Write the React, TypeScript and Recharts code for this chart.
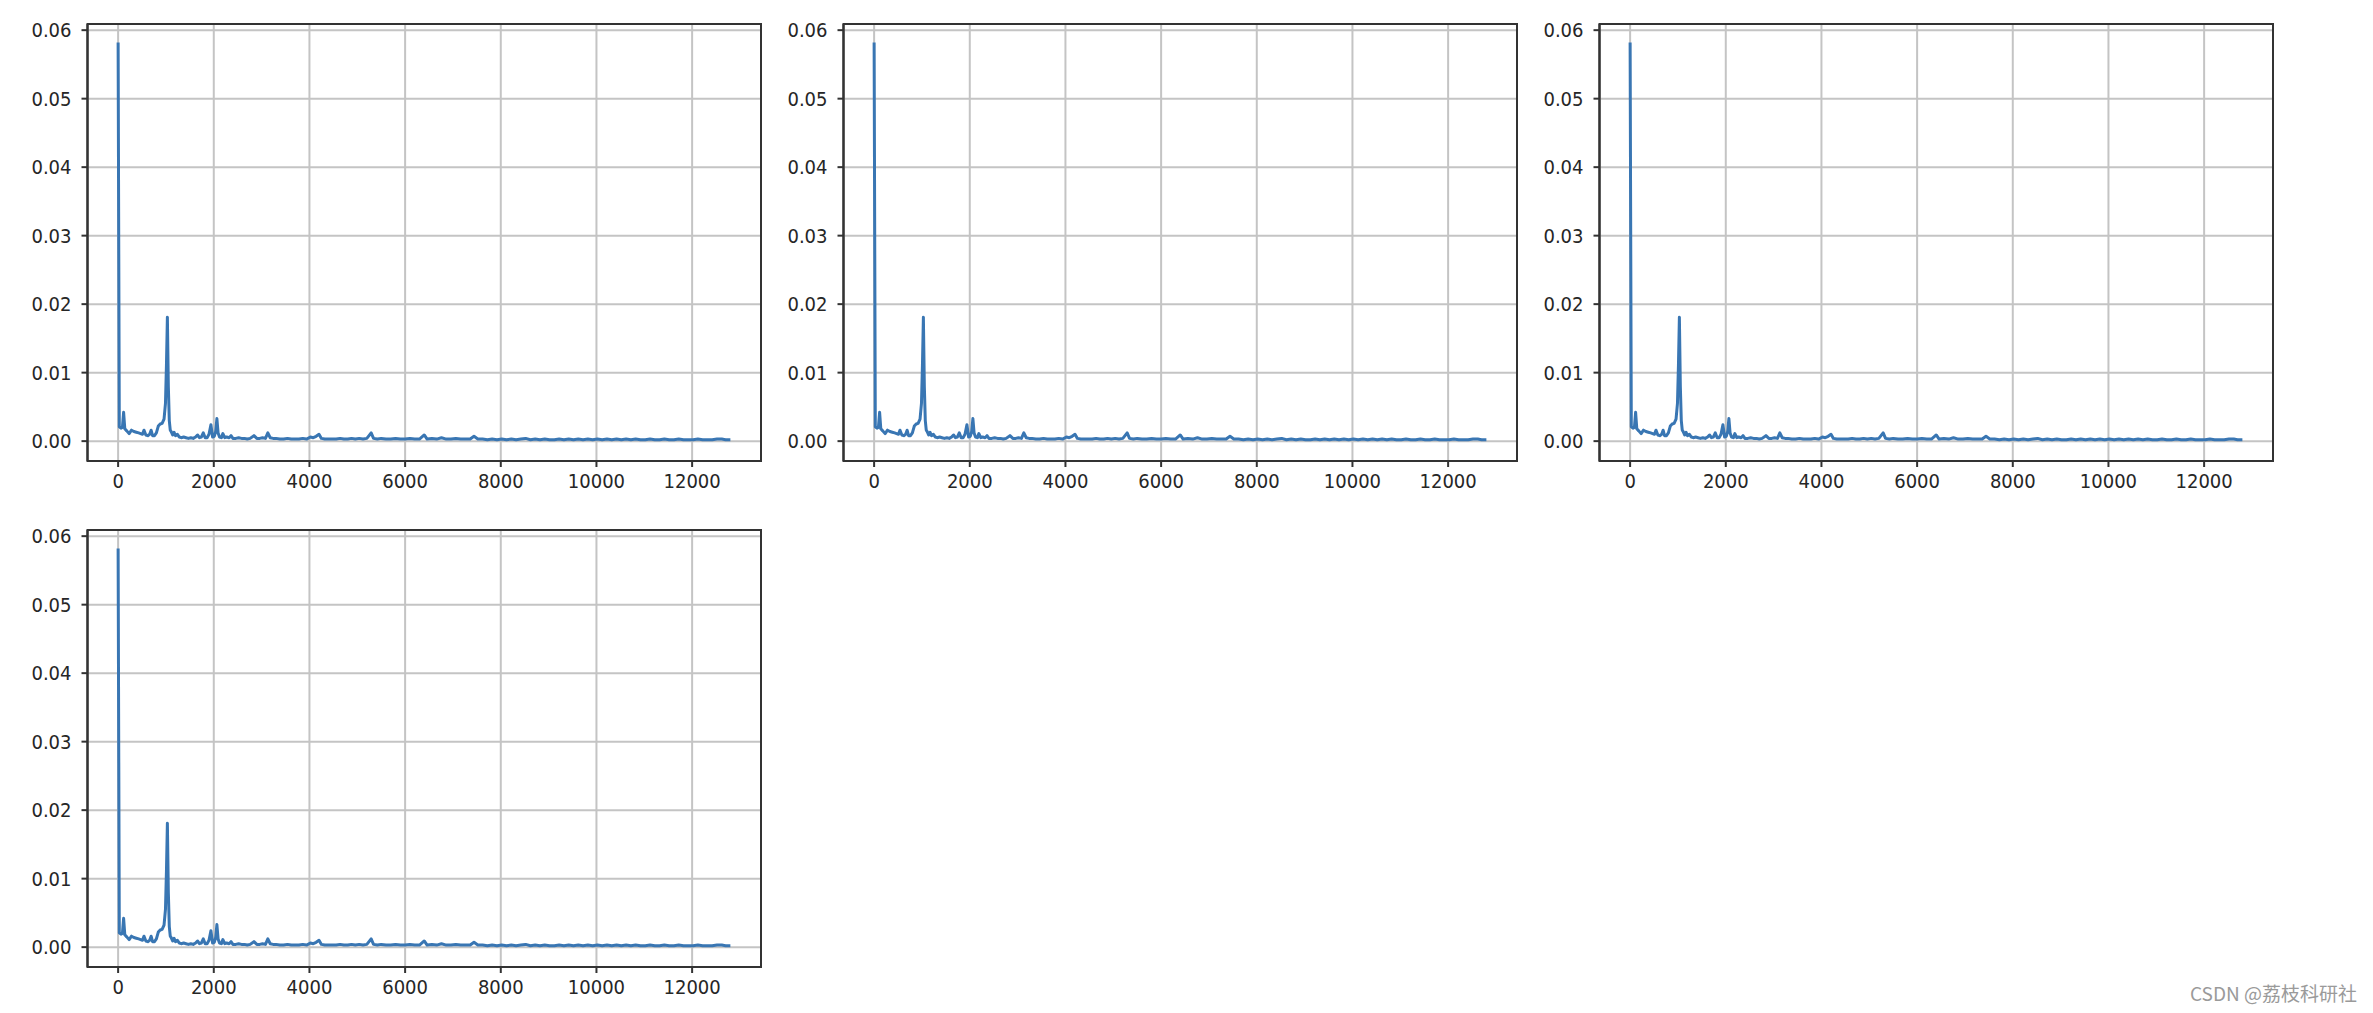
import React from 'react'
import {
  LineChart,
  Line,
  XAxis,
  YAxis,
  CartesianGrid,
  ReferenceArea
} from 'recharts'

// spectrum (all four panels show the same curve)
const freqHz = [
  0, 25, 60, 90, 115, 140, 180, 230, 280, 330, 380, 430, 470, 510, 540, 580, 620, 660, 690, 720,
  760, 800, 840, 880, 920, 960, 990, 1010, 1030, 1050, 1070, 1090, 1110, 1140, 1170, 1200, 1240, 1280, 1320, 1370,
  1420, 1470, 1520, 1570, 1620, 1660, 1700, 1740, 1780, 1820, 1860, 1900, 1940, 1975, 2010, 2040, 2065, 2090, 2120, 2160,
  2190, 2230, 2270, 2320, 2360, 2400, 2460, 2520, 2580, 2640, 2700, 2760, 2840, 2900, 2960, 3020, 3080, 3130, 3180, 3240,
  3300, 3380, 3460, 3540, 3620, 3700, 3780, 3860, 3940, 4020, 4080, 4140, 4200, 4250, 4320, 4400, 4480, 4560, 4640, 4720,
  4800, 4880, 4960, 5040, 5120, 5200, 5290, 5340, 5420, 5500, 5600, 5700, 5800, 5900, 6000, 6100, 6200, 6300, 6400, 6460,
  6560, 6660, 6760, 6860, 6960, 7060, 7160, 7260, 7360, 7440, 7520, 7620, 7720, 7820, 7920, 8020, 8120, 8220, 8320, 8420,
  8520, 8620, 8720, 8820, 8920, 9020, 9120, 9220, 9320, 9420, 9520, 9620, 9720, 9820, 9920, 10020, 10120, 10220, 10320, 10420,
  10520, 10620, 10720, 10820, 10920, 11020, 11120, 11220, 11320, 11420, 11520, 11620, 11720, 11820, 11920, 12020, 12120, 12220, 12320, 12420,
  12520, 12620, 12700, 12800
]

const amplitude = [
  0.0582, 0.0021, 0.0019, 0.002, 0.0042, 0.0018, 0.0015, 0.0011, 0.0016, 0.0014, 0.0013, 0.0012, 0.0011, 0.001, 0.0016, 0.0009, 0.0008, 0.001, 0.0016, 0.0008,
  0.0008, 0.0012, 0.0022, 0.0025, 0.0026, 0.0032, 0.0055, 0.011, 0.0181, 0.008, 0.003, 0.0016, 0.0014, 0.0009, 0.0013, 0.0008, 0.001, 0.0006, 0.0005, 0.0006,
  0.0005, 0.0004, 0.0005, 0.0004, 0.0006, 0.0009, 0.0005, 0.0006, 0.0012, 0.0005, 0.0005, 0.001, 0.0024, 0.0006, 0.0007, 0.0014, 0.0033, 0.0012, 0.0006, 0.0005,
  0.0011, 0.0005, 0.0006, 0.0005, 0.0008, 0.0004, 0.0004, 0.0005, 0.0004, 0.0004, 0.0003, 0.0004, 0.0008, 0.0004, 0.0004, 0.0005, 0.0004, 0.0012, 0.0005, 0.0004,
  0.0004, 0.0003, 0.0003, 0.0004, 0.0003, 0.0003, 0.0003, 0.0004, 0.0003, 0.0006, 0.0005, 0.0007, 0.001, 0.0004, 0.0003, 0.0003, 0.0003, 0.0003, 0.0004, 0.0003,
  0.0003, 0.0004, 0.0003, 0.0004, 0.0003, 0.0004, 0.0012, 0.0004, 0.0003, 0.0004, 0.0003, 0.0003, 0.0004, 0.0003, 0.0003, 0.0004, 0.0003, 0.0003, 0.0009, 0.0003,
  0.0004, 0.0003, 0.0005, 0.0003, 0.0003, 0.0004, 0.0003, 0.0003, 0.0003, 0.0007, 0.0003, 0.0003, 0.0002, 0.0003, 0.0002, 0.0003, 0.0002, 0.0003, 0.0002, 0.0003,
  0.0004, 0.0002, 0.0003, 0.0002, 0.0003, 0.0002, 0.0002, 0.0003, 0.0002, 0.0003, 0.0002, 0.0003, 0.0002, 0.0003, 0.0002, 0.0003, 0.0002, 0.0003, 0.0002, 0.0003,
  0.0002, 0.0003, 0.0002, 0.0003, 0.0002, 0.0002, 0.0003, 0.0002, 0.0002, 0.0003, 0.0002, 0.0002, 0.0003, 0.0002, 0.0002, 0.0002, 0.0003, 0.0002, 0.0002, 0.0002,
  0.0003, 0.0003, 0.0002, 0.0002
]

const xTicks = [0, 2000, 4000, 6000, 8000, 10000, 12000]
const yTicks = [0, 0.01, 0.02, 0.03, 0.04, 0.05, 0.06]
const xDomain: [number, number] = [-640, 13440]
const yDomain: [number, number] = [-0.0029, 0.0609]

const spectrum = freqHz.map((f, i) => ({ f, a: amplitude[i] }))

// left/top of each panel's chart box
const panels = [
  { left: 0, top: 0 },
  { left: 755.5, top: 0 },
  { left: 1511.5, top: 0 },
  { left: 0, top: 505.5 }
]

const tickStyle = {
  fontSize: 20,
  fontFamily: "'DejaVu Sans Condensed', 'DejaVu Sans', sans-serif",
  fill: '#262626'
}

function SpectrumPanel() {
  return (
    <LineChart
      width={780}
      height={510}
      data={spectrum}
      margin={{ top: 24, right: 19, left: 7.5, bottom: 0 }}
    >
      <CartesianGrid stroke="#c4c4c4" strokeWidth={2} />
      <XAxis
        dataKey="f"
        type="number"
        domain={xDomain}
        ticks={xTicks}
        interval={0}
        allowDataOverflow
        height={49}
        tick={tickStyle}
        tickMargin={7}
        tickLine={{ stroke: '#333', strokeWidth: 2 }}
        axisLine={{ stroke: '#333', strokeWidth: 2 }}
      />
      <YAxis
        type="number"
        domain={yDomain}
        ticks={yTicks}
        interval={0}
        allowDataOverflow
        width={80}
        tick={tickStyle}
        tickMargin={10}
        tickFormatter={(v: number) => v.toFixed(2)}
        tickLine={{ stroke: '#333', strokeWidth: 2 }}
        axisLine={{ stroke: '#333', strokeWidth: 2 }}
      />
      <Line
        type="linear"
        dataKey="a"
        stroke="#3976b3"
        strokeWidth={3}
        strokeLinejoin="round"
        dot={false}
        isAnimationActive={false}
      />
      <ReferenceArea
        x1={xDomain[0]}
        x2={xDomain[1]}
        y1={yDomain[0]}
        y2={yDomain[1]}
        fill="none"
        stroke="#333"
        strokeWidth={2}
      />
    </LineChart>
  )
}

export default function App() {
  return (
    <div
      style={{
        position: 'absolute',
        left: 0,
        top: 0,
        width: 2373,
        height: 1013,
        background: '#fff',
        overflow: 'hidden'
      }}
    >
      {panels.map((p, i) => (
        <div key={i} style={{ position: 'absolute', left: p.left, top: p.top }}>
          <SpectrumPanel />
        </div>
      ))}
      <div
        style={{
          position: 'absolute',
          right: 16,
          top: 979,
          fontSize: 19,
          fontFamily: "'Noto Sans CJK SC', 'Noto Sans', sans-serif",
          color: '#9a9a9a',
          whiteSpace: 'nowrap'
        }}
      >
        CSDN @荔枝科研社
      </div>
    </div>
  )
}
